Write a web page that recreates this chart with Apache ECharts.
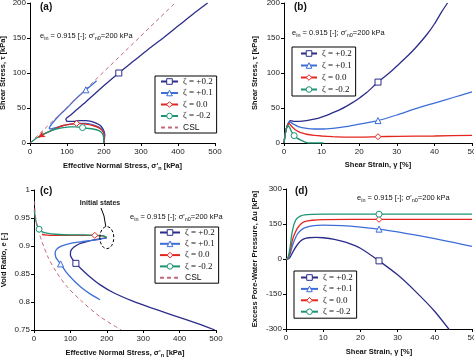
<!DOCTYPE html>
<html><head><meta charset="utf-8">
<script src="https://cdn.jsdelivr.net/npm/echarts@6/dist/echarts.min.js"></script>
<style>html,body{margin:0;padding:0;background:#fff}#c{width:474px;height:357px}</style>
</head><body><div id="c"></div>
<script>
// ---------- data ----------
const seriesNames = ['ζ = +0.2', 'ζ = +0.1', 'ζ = 0.0', 'ζ = -0.2'];
const cslName = 'CSL';

// Panel (a): effective normal stress [kPa] vs shear stress [kPa]
const aSig0 = [200,201,202,200,196,190,180,165,150,135,120,108,100,97,100,110,125,145,170,200,240,280,320,360,400,440,480];
const aTau0 = [0,5,12,17,21,25,28,31,32,32,31,31,31,34,36,40,47,56,68,82,100,117,134,150,167,184,200];
const aSig1 = [200,200,195,185,170,150,130,110,90,70,55,52,60,80,100,120,151,165,180];
const aTau1 = [0,14,19,23,26,28,28,27,25,22,20,21,28,40,50,61,76,82,89];
const aSig2 = [200,200,195,185,170,150,126,110,90,70,50,35,22];
const aTau2 = [0,12,18,22,25,27,28,27,25,21,16,12,8];
const aSig3 = [200,199,195,185,170,155,142,125,110,90,70,50,30,15,5,0];
const aTau3 = [0,8,14,18,20,21,22,23,23,22,20,16,11,6,2,0];
const aCslSig = [0,392];
const aCslTau = [0,200];
const aMarker = [20,16,6,6];

// Panel (b): shear strain [%] vs shear stress [kPa]
const bGam0 = [0,0.3,0.7,1.2,1.7,2.5,4,6,8,10,12,15,18,20,22,25,28,30,33,35,38,40,42,43.5];
const bTau0 = [0,12,22,29,32,31,31,32,34,37,41,48,57,64,72,87,100,110,125,136,155,170,188,200];
const bGam1 = [0,0.3,0.7,1.2,1.6,2.5,4,6,8,10,13,16,20,25,30,35,40,45,50];
const bTau1 = [0,12,22,28,30,27,23,21,20,20,21,23,27,32,40,49,57,65,73];
const bGam2 = [0,0.3,0.6,1,1.3,2,3,4,5,6,8,10,13,16,20,25,30,40,50];
const bTau2 = [0,12,20,26,28,24,19,16,14,12.5,11,10,9,8.5,8.5,9,9.5,10,11];
const bGam3 = [0,0.3,0.6,1,1.5,2,2.7,3.5,4.5,5.5,6.2,7,10.5];
const bTau3 = [0,12,20,25,22,16,10.5,7,4,1.5,0.3,0,0];
const bMarker = [15,13,15,6];

// Panel (c): effective normal stress [kPa] vs void ratio [-]
const cSig0 = [200,185,165,145,125,110,101,100,105,115,130,150,181,220,273,320,370,420,460,497];
const cE0 = [0.915,0.913,0.911,0.908,0.904,0.898,0.891,0.884,0.877,0.869,0.859,0.847,0.831,0.816,0.801,0.790,0.779,0.768,0.759,0.750];
const cSig1 = [200,180,160,135,110,90,72,62,58,60,66,73,90,110,130,155,181];
const cE1 = [0.915,0.912,0.910,0.908,0.906,0.903,0.899,0.894,0.888,0.880,0.874,0.868,0.852,0.838,0.826,0.814,0.804];
const cSig2 = [200,190,167,130,90,50,30,22];
const cE2 = [0.915,0.918,0.919,0.919,0.919,0.919,0.920,0.921];
const cSig3 = [200,190,170,140,100,60,35,20,14,8,4,2,1];
const cE3 = [0.915,0.918,0.919,0.920,0.920,0.921,0.923,0.926,0.930,0.938,0.948,0.958,0.965];
const cCslSig = [1.5,3,6,10,18,25,40,60,90,130,181,240];
const cCslE = [0.98,0.96,0.945,0.932,0.915,0.902,0.878,0.855,0.828,0.802,0.774,0.75];
const cMarker = [9,11,2,8];
const initialState = [200, 0.915];

// Panel (d): shear strain [%] vs excess pore-water pressure [kPa]
const dGam0 = [0,0.5,1,1.5,2,3,4,5,6,8,10,13,16,20,25,30,35,40,44];
const dU0 = [0,0,5,20,35,60,78,87,91,93,91,84,72,46,-8,-68,-142,-225,-305];
const dGam1 = [0,0.5,1,1.5,2,3,4,5,7,10,15,20,25,30,35,40,45,50];
const dU1 = [0,2,15,45,70,105,123,133,142,145,143,137,128,116,102,87,71,54];
const dGam2 = [0,0.5,1,1.5,2,3,4,5,7,10,25,50];
const dU2 = [0,3,25,65,95,130,150,160,166,169,170,170];
const dGam3 = [0,0.5,1,1.5,2,2.5,3,4,5,7,10,25,50];
const dU3 = [0,5,40,100,140,163,175,185,189,191,192,192,192];
const dMarker = [14,12,10,11];

// ---------- style ----------
const colors = ['#2c2d8a', '#3d6ed8', '#e3261f', '#1d9474'];
const cslColor = '#c26a7c';
const symbols = ['rect', 'triangle', 'diamond', 'circle'];
const F = 'Liberation Sans';
const SERIF = 'Liberation Serif';

function mkData(xs, ys, mi, arrowEnd) {
  return xs.map((x, i) => {
    if (i === mi) return { value: [x, ys[i]] };
    if (arrowEnd && i === xs.length - 1) return { value: [x, ys[i]], symbol: 'arrow', symbolSize: [5, 7], symbolRotate: 120, itemStyle: { color: colors[2], borderWidth: 0 } };
    return { value: [x, ys[i]], symbol: 'none' };
  });
}
function ser(k, idx, xs, ys, mi, arrowEnd) {
  return {
    type: 'line', name: seriesNames[k], xAxisIndex: idx, yAxisIndex: idx,
    data: mkData(xs, ys, mi, arrowEnd), symbol: symbols[k], symbolSize: 6,
    smooth: 0.2, lineStyle: { color: colors[k], width: 1.3 },
    itemStyle: { color: '#fff', borderColor: colors[k], borderWidth: 1 }, animation: false
  };
}
function csl(idx, xs, ys) {
  return {
    type: 'line', name: cslName, xAxisIndex: idx, yAxisIndex: idx,
    data: xs.map((x, i) => [x, ys[i]]), symbol: 'none', smooth: 0.3,
    lineStyle: { color: cslColor, width: 1, type: [4, 3] }, itemStyle: { color: cslColor }, animation: false
  };
}
const nameStyle = {
  fontSize: 7.5, fontWeight: 'bold', fontFamily: F, color: '#111',
  rich: { s: { fontSize: 5.5, fontWeight: 'bold', fontFamily: F, color: '#111', verticalAlign: 'bottom', padding: [4, 0, 0, 0] } }
};
function ax(idx, min, max, interval, name, gap, isY) {
  return {
    type: 'value', gridIndex: idx, min, max, interval, name,
    nameLocation: 'middle', nameGap: gap, nameMoveOverlap: false, nameTextStyle: nameStyle,
    axisLine: { show: true, onZero: false, lineStyle: { color: '#000', width: 1 } },
    axisTick: { show: true, length: 3, lineStyle: { color: '#000' } },
    axisLabel: { fontSize: 8, color: '#222', fontFamily: F, margin: isY ? 4 : 5, showMinLabel: true, showMaxLabel: true, hideOverlap: false },
    splitLine: { show: false }
  };
}
function leg(left, top, withCsl, padding, itemWidth, itemGap) {
  const data = seriesNames.map((n, k) => ({ name: n, itemStyle: { color: '#fff', borderColor: colors[k], borderWidth: 1 } }));
  if (withCsl) data.push({ name: cslName, itemStyle: { opacity: 0 } });
  return {
    orient: 'vertical', left, top, data, padding, itemWidth, itemHeight: 7, itemGap,
    borderColor: '#000', borderWidth: 1, borderRadius: 0, backgroundColor: '#fff',
    selectedMode: false,
    formatter: n => n === cslName ? '{s|CSL}' : n,
    textStyle: { fontFamily: SERIF, fontSize: 9, color: '#111', rich: { s: { fontFamily: F, fontSize: 8.5, color: '#111' } } }
  };
}

const sigName = "Effective Normal Stress, σ'{s|n} [kPa]";
const option = {
  animation: false,
  backgroundColor: '#fff',
  grid: [
    { left: 30, top: 3, width: 185, height: 140, containLabel: false, outerBoundsMode: 'none' },
    { left: 284, top: 3, width: 188, height: 140, containLabel: false, outerBoundsMode: 'none' },
    { left: 34, top: 190, width: 182, height: 140, containLabel: false, outerBoundsMode: 'none' },
    { left: 286, top: 189, width: 186, height: 140, containLabel: false, outerBoundsMode: 'none' }
  ],
  xAxis: [
    ax(0, 0, 500, 100, sigName, 18, false),
    ax(1, 0, 50, 10, 'Shear Strain, γ [%]', 18, false),
    ax(2, 0, 500, 100, sigName, 18, false),
    ax(3, 0, 50, 10, 'Shear Strain, γ [%]', 19, false)
  ],
  yAxis: [
    ax(0, 0, 200, 50, 'Shear Stress, τ [kPa]', 23, true),
    ax(1, 0, 200, 50, 'Shear Stress, τ [kPa]', 25, true),
    ax(2, 0.75, 1, 0.05, 'Void Ratio, e [-]', 26, true),
    ax(3, -300, 300, 150, 'Excess Pore-Water Pressure, Δu [kPa]', 27, true)
  ],
  legend: [
    leg(155, 76, true, [1, 4, 1, 5], 17, 2.5),
    leg(292, 47, false, [2, 4, 2, 8], 16, 3),
    leg(155, 227, true, [1, 4, 1, 4], 20, 2.3),
    leg(294, 271, false, [2, 4, 2, 6], 17, 2.4)
  ],
  series: [
    ser(0, 0, aSig0, aTau0, aMarker[0]),
    ser(1, 0, aSig1, aTau1, aMarker[1]),
    ser(2, 0, aSig2, aTau2, aMarker[2], true),
    ser(3, 0, aSig3, aTau3, aMarker[3]),
    csl(0, aCslSig, aCslTau),
    ser(0, 1, bGam0, bTau0, bMarker[0]),
    ser(1, 1, bGam1, bTau1, bMarker[1]),
    ser(2, 1, bGam2, bTau2, bMarker[2]),
    ser(3, 1, bGam3, bTau3, bMarker[3]),
    ser(0, 2, cSig0, cE0, cMarker[0]),
    ser(1, 2, cSig1, cE1, cMarker[1]),
    ser(2, 2, cSig2, cE2, cMarker[2]),
    ser(3, 2, cSig3, cE3, cMarker[3]),
    csl(2, cCslSig, cCslE),
    ser(0, 3, dGam0, dU0, dMarker[0]),
    ser(1, 3, dGam1, dU1, dMarker[1]),
    ser(2, 3, dGam2, dU2, dMarker[2]),
    ser(3, 3, dGam3, dU3, dMarker[3])
  ]
};

const chart = echarts.init(document.getElementById('c'), null, { renderer: 'canvas' });
chart.setOption(option);

const annRich = { s: { fontSize: 5.5, fontFamily: F, fill: '#111', verticalAlign: 'bottom', padding: [4, 0, 0, 0] } };
function ann(x, y) {
  return { type: 'text', x, y, z: 100, style: { text: "e{s|in} = 0.915 [-]; σ'{s|n0}=200 kPa", fontSize: 7.5, fontFamily: F, fill: '#111', verticalAlign: 'middle', rich: annRich } };
}
function lab(t, x, y) {
  return { type: 'text', x, y, z: 100, style: { text: t, fontSize: 10, fontWeight: 'bold', fontFamily: F, fill: '#111', verticalAlign: 'middle' } };
}
const p = chart.convertToPixel({ xAxisIndex: 2, yAxisIndex: 2 }, initialState);
const graphics = [
  lab('(a)', 40, 7), lab('(b)', 294, 7), lab('(c)', 40, 191), lab('(d)', 295, 191),
  ann(40, 36), ann(292, 33), ann(130, 217), ann(357, 198),
  { type: 'text', x: 100, y: 203, z: 100, style: { text: 'Initial states', fontSize: 7, fontWeight: 'bold', fontFamily: F, fill: '#222', align: 'center', verticalAlign: 'middle' } },
  { type: 'ellipse', z: 100, shape: { cx: p[0], cy: p[1], rx: 7, ry: 11 }, style: { fill: 'none', stroke: '#000', lineWidth: 1, lineDash: [3, 2] } },
  { type: 'polyline', z: 100, shape: { points: [[101, 208], [104, 216], [p[0] - 1, p[1] - 11]] }, style: { fill: 'none', stroke: '#000', lineWidth: 1 } }
];
chart.setOption({ graphic: graphics });
</script>
</body></html>
